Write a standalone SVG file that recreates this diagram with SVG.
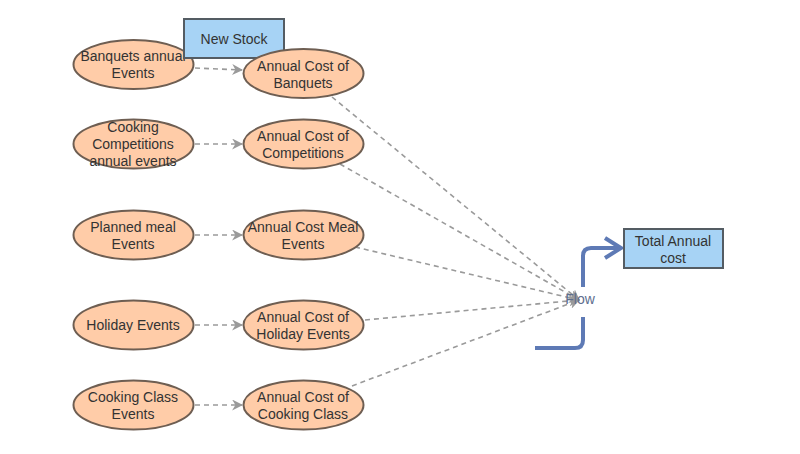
<svg xmlns="http://www.w3.org/2000/svg" width="800" height="454" viewBox="0 0 800 454">
<defs>
<style>
.n ellipse{fill:#FFCCA8;stroke:#6E5E52;stroke-width:2}
.s rect{fill:#A7D3F5;stroke:#545C63;stroke-width:2}
text{font-family:"Liberation Sans","DejaVu Sans",sans-serif;font-size:14px;fill:#333;text-anchor:middle}
.d{fill:none;stroke:#9A9A9A;stroke-width:1.6;stroke-dasharray:5,4}
</style>
<marker id="a" viewBox="0 0 10 10" refX="9" refY="5" markerWidth="11" markerHeight="11" orient="auto" markerUnits="userSpaceOnUse">
<path d="M0,0 L10,5 L0,10 L3,5 Z" fill="#9A9A9A"/>
</marker>
</defs>
<rect width="800" height="454" fill="#fff"/>
<g id="connectors">
<path class="d" d="M195,68 L242,70" marker-end="url(#a)"/>
<path class="d" d="M195,144 L242,144" marker-end="url(#a)"/>
<path class="d" d="M195,235 L242,235" marker-end="url(#a)"/>
<path class="d" d="M195,325 L242,325" marker-end="url(#a)"/>
<path class="d" d="M195,405 L242,405" marker-end="url(#a)"/>
<path class="d" d="M332,97 L579,300" marker-end="url(#a)"/>
<path class="d" d="M340,164 L579,300" marker-end="url(#a)"/>
<path class="d" d="M355,247 L579,300" marker-end="url(#a)"/>
<path class="d" d="M365,320 L579,300" marker-end="url(#a)"/>
<path class="d" d="M352,386 L579,300" marker-end="url(#a)"/>
</g>
<g id="flow">
<path d="M535,348 L575,348 Q583,348 583,340 L583,317" fill="none" stroke="#5E7AB5" stroke-width="4"/>
<path d="M583,287 L583,256 Q583,248 591,248 L619,248" fill="none" stroke="#5E7AB5" stroke-width="4"/>
<path d="M605,238 L621,248 L605,258" fill="none" stroke="#5E7AB5" stroke-width="4" stroke-linejoin="miter"/>
<text x="580" y="304" style="fill:#5E6E8E">Flow</text>
</g>
<g id="banquets-events" class="n"><ellipse cx="133.5" cy="64.5" rx="60" ry="24.5"/><text x="133" y="61">Banquets annual</text><text x="133" y="78">Events</text></g>
<g id="new-stock" class="s"><rect x="184" y="19" width="100" height="39"/><text x="234" y="44">New Stock</text></g>
<g id="cost-banquets" class="n"><ellipse cx="303.5" cy="73.5" rx="60" ry="24.5"/><text x="303" y="71">Annual Cost of</text><text x="303" y="88">Banquets</text></g>
<g id="competitions-events" class="n"><ellipse cx="133.5" cy="144" rx="60" ry="24.5"/><text x="133" y="132">Cooking</text><text x="133" y="149">Competitions</text><text x="133" y="166">annual events</text></g>
<g id="cost-competitions" class="n"><ellipse cx="303.5" cy="144" rx="60" ry="24.5"/><text x="303" y="141">Annual Cost of</text><text x="303" y="158">Competitions</text></g>
<g id="planned-meal" class="n"><ellipse cx="133.5" cy="235" rx="60" ry="24.5"/><text x="133" y="232">Planned meal</text><text x="133" y="249">Events</text></g>
<g id="cost-meal" class="n"><ellipse cx="303.5" cy="235" rx="60" ry="24.5"/><text x="303" y="232">Annual Cost Meal</text><text x="303" y="249">Events</text></g>
<g id="holiday-events" class="n"><ellipse cx="133.5" cy="325" rx="60" ry="24.5"/><text x="133" y="330">Holiday Events</text></g>
<g id="cost-holiday" class="n"><ellipse cx="303.5" cy="325" rx="60" ry="24.5"/><text x="303" y="322">Annual Cost of</text><text x="303" y="339">Holiday Events</text></g>
<g id="cooking-class" class="n"><ellipse cx="133.5" cy="405" rx="60" ry="24.5"/><text x="133" y="402">Cooking Class</text><text x="133" y="419">Events</text></g>
<g id="cost-cooking-class" class="n"><ellipse cx="303.5" cy="405" rx="60" ry="24.5"/><text x="303" y="402">Annual Cost of</text><text x="303" y="419">Cooking Class</text></g>
<g id="total-annual-cost" class="s"><rect x="624" y="229" width="99" height="39"/><text x="673" y="246">Total Annual</text><text x="673" y="263">cost</text></g>
</svg>
